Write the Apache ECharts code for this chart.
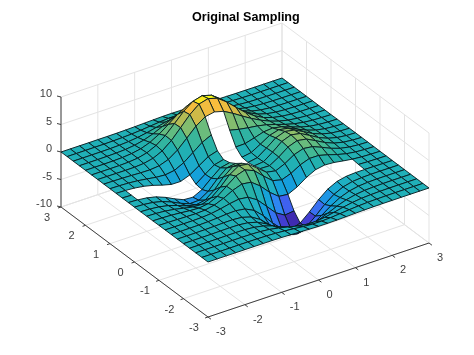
<!DOCTYPE html>
<html>
<head>
<meta charset="utf-8">
<script src="https://cdn.jsdelivr.net/npm/echarts@6/dist/echarts.min.js"></script>
<style>
html,body{margin:0;padding:0;background:#fff;}
#main{width:474px;height:355px;}
</style>
</head>
<body>
<div id="main"></div>
<script>
var gridX = [-3,-2.75,-2.5,-2.25,-2,-1.75,-1.5,-1.25,-1,-0.75,-0.5,-0.25,0,0.25,0.5,0.75,1,1.25,1.5,1.75,2,2.25,2.5,2.75,3];
var gridY = gridX.slice();
var xTicks = [-3,-2,-1,0,1,2,3];
var yTicks = [-3,-2,-1,0,1,2,3];
var zTicks = [-10,-5,0,5,10];
// one row per y (from y=-3 up), null = hole
var zValues = [
[0,0,0,0,0,0,0,0,-.03,-.08,-.14,-.2,-.25,-.25,-.22,-.17,-.11,-.06,-.03,-.01,-.01,0,0,0,0],
[0,0,0,0,.01,.01,0,-.03,-.1,-.22,-.39,-.56,-.68,-.7,-.61,-.46,-.3,-.17,-.08,-.04,-.01,0,0,0,0],
[0,0,0,.01,.01,.02,0,-.07,-.23,-.53,-.91,-1.31,-1.57,-1.6,-1.41,-1.06,-.69,-.38,-.18,-.08,-.03,-.01,0,0,0],
[0,0,.01,.01,.03,.04,.01,-.12,-.44,-.99,-1.74,-2.51,-3.02,-3.1,-2.72,-2.05,-1.32,-.73,-.35,-.14,-.05,-.01,0,0,0],
[0,0,.01,.02,.05,.07,.05,-.13,-.59,-1.45,-2.64,-3.88,-4.76,-4.93,-4.35,-3.27,-2.1,-1.15,-.53,-.2,-.06,-.01,0,0,0],
[0,0,.01,.03,.07,.13,.15,.02,-.47,-1.48,-3,-4.7,-5.98,-6.33,-5.64,-4.24,-2.69,-1.42,-.61,-.2,-.05,0,.01,0,0],
[0,0,.01,.03,.08,.18,.33,.39,.15,-.67,-2.18,-4.07,-5.68,-6.32,-5.76,-4.31,-2.63,-1.27,-.44,-.07,.04,.05,.03,.01,0],
[0,-.01,-.01,-.01,.03,.17,.45,.83,1.1,.89,-.14,-1.85,-3.61,-4.6,-4.4,null,null,null,null,null,null,.13,.06,.02,.01],
[-.01,-.02,-.06,-.1,-.13,-.04,.3,.98,1.85,2.46,2.23,.99,-.72,-2.02,-2.22,-1.43,-.27,.58,.88,.77,.5,.26,.11,.04,.01],
[-.02,-.05,-.12,-.25,-.42,-.51,-.28,.49,1.78,3.09,3.63,2.94,1.4,0,-.41,.2,1.18,1.79,1.78,1.34,.82,.41,.17,.06,.02],
[-.02,-.07,-.2,-.44,-.8,-1.15,-1.21,-.6,.79,2.49,3.55,3.3,2,.7,.39,1.14,2.2,2.76,2.55,1.87,1.12,.56,.24,.08,.02],
[-.03,-.1,-.27,-.6,-1.14,-1.77,-2.16,-1.84,-.57,1.23,2.56,2.62,null,.53,.48,1.5,2.76,3.37,3.09,2.24,1.34,.67,.28,.1,.03],
[-.03,-.11,-.3,-.69,-1.33,-2.14,-2.77,-2.71,-1.65,.07,1.48,1.75,null,.19,.37,1.57,2.94,3.58,3.27,2.37,1.41,.72,.3,.1,.03],
[-.03,-.1,-.29,-.67,-1.32,-2.15,-2.87,-2.98,-2.15,-.65,.68,1.06,null,-.03,.28,1.47,2.76,3.36,3.06,2.22,1.32,.67,.27,.09,.03],
[-.03,-.09,null,null,null,null,null,null,-2,-.76,.39,.8,null,.09,.38,1.34,2.38,2.84,2.56,1.84,1.09,.54,.23,.08,.02],
[-.02,-.06,-.18,-.42,-.81,-1.33,-1.76,-1.78,-1.16,-.05,1.04,1.55,null,1.12,1.17,1.65,2.17,2.32,1.99,1.4,.82,.4,.17,.06,.02],
[-.01,-.04,-.11,-.25,-.48,-.74,-.86,-.6,.23,1.51,2.79,3.59,null,3.34,2.94,2.66,2.43,2.09,1.58,1.03,.58,.28,.11,.04,.01],
[-.01,-.02,-.06,-.12,-.2,-.22,-.05,.55,1.7,3.29,4.92,6.07,6.39,5.94,5.02,3.97,2.97,2.09,1.35,.79,.41,.19,.07,.02,.01],
[0,-.01,-.02,-.03,-.01,.11,.48,1.27,2.61,4.37,6.19,7.54,7.99,7.48,6.25,4.72,3.25,2.05,1.18,.62,.29,.12,.05,.02,0],
[0,0,0,.01,.07,.24,.65,1.43,2.67,4.29,5.96,7.22,7.68,7.2,5.99,4.45,2.96,1.78,.96,.47,.21,.08,.03,.01,0],
[0,0,0,.02,.08,.23,.55,1.16,2.1,3.31,4.56,5.51,5.86,5.5,4.57,3.37,2.21,1.29,.68,.32,.13,.05,.02,.01,0],
[0,0,0,.02,.06,.15,.36,.74,1.32,2.07,2.84,3.43,3.65,3.43,2.84,2.09,1.36,.79,.41,.19,.08,.03,.01,0,0],
[0,0,0,.01,.03,.08,.19,.39,.69,1.07,1.47,1.77,1.89,1.77,1.47,1.08,.7,.4,.21,.09,.04,.01,0,0,0],
[0,0,0,.01,.01,.04,.09,.17,.3,.47,.64,.77,.82,.77,.64,.47,.3,.17,.09,.04,.01,.01,0,0,0],
[0,0,0,0,.01,.01,.03,.06,.11,.17,.23,.28,.3,.28,.23,.17,.11,.06,.03,.01,.01,0,0,0,0]
];

var chart = echarts.init(document.getElementById('main'));

// view: the floor corner x=-3,y=-3 sits at (208,317), z scale in px per unit
function project(x, y, z) {
    var a = (x + 3) / 6, b = (y + 3) / 6;
    return [208 + a * 221 - b * 147, 317 - a * 74 - b * 110 - (z + 10) * 5.5];
}

// parula colormap stops
var parula = ['#3e26a8','#4650ef','#2e87f3','#149fdc','#1fb0c4','#22b0ab','#4fbc8b','#93bd66','#d6ba44','#fdbd3c','#f9fb15'];
var zMin = -6.5, zMax = 8;
function faceColor(z) {
    var t = Math.max(0, Math.min(1, (z - zMin) / (zMax - zMin)));
    return echarts.color.lerp(t, parula);
}

// cells back to front so nearer ones paint over
var cells = [];
for (var j = gridY.length - 2; j >= 0; j--) {
    for (var i = gridX.length - 2; i >= 0; i--) {
        cells.push([i, j]);
    }
}

var lineColor = '#e3e3e3', axisColor = '#404040', textColor = '#404040';

function seg(api, p, q, color, w) {
    var a = api.coord(project(p[0], p[1], p[2]));
    var b = api.coord(project(q[0], q[1], q[2]));
    return {type: 'line', shape: {x1: a[0], y1: a[1], x2: b[0], y2: b[1]}, style: {stroke: color, lineWidth: w}, silent: true};
}

function label(api, p, dx, dy, str, align) {
    var a = api.coord(project(p[0], p[1], p[2]));
    return {type: 'text', x: a[0] + dx, y: a[1] + dy, silent: true,
        style: {text: str, fill: textColor, font: '11px "Liberation Sans", Arial, sans-serif', align: align, verticalAlign: 'middle'}};
}

function renderBox(params, api) {
    var kids = [];
    // floor and back walls
    xTicks.forEach(function (v) {
        kids.push(seg(api, [v, -3, -10], [v, 3, -10], lineColor, 1));
        kids.push(seg(api, [v, 3, -10], [v, 3, 10], lineColor, 1));
    });
    yTicks.forEach(function (v) {
        kids.push(seg(api, [-3, v, -10], [3, v, -10], lineColor, 1));
        kids.push(seg(api, [3, v, -10], [3, v, 10], lineColor, 1));
    });
    zTicks.forEach(function (v) {
        kids.push(seg(api, [-3, 3, v], [3, 3, v], lineColor, 1));
        kids.push(seg(api, [3, 3, v], [3, -3, v], lineColor, 1));
    });
    // axes
    kids.push(seg(api, [-3, 3, -10], [-3, 3, 10], axisColor, 1));
    kids.push(seg(api, [-3, -3, -10], [-3, 3, -10], axisColor, 1));
    kids.push(seg(api, [-3, -3, -10], [3, -3, -10], axisColor, 1));
    xTicks.forEach(function (v) {
        kids.push(seg(api, [v, -3, -10], [v, -3.12, -10], axisColor, 1));
        kids.push(label(api, [v, -3, -10], v < 0 ? 13 : 11, 15, String(v), 'center'));
    });
    yTicks.forEach(function (v) {
        kids.push(seg(api, [-3, v, -10], [-3.08, v, -10], axisColor, 1));
        kids.push(label(api, [-3, v, -10], -14, 11, String(v), 'center'));
    });
    zTicks.forEach(function (v) {
        var a = api.coord(project(-3, 3, v));
        kids.push({type: 'line', shape: {x1: a[0], y1: a[1], x2: a[0] - 4, y2: a[1] - 1}, style: {stroke: axisColor, lineWidth: 1}, silent: true});
        kids.push(label(api, [-3, 3, v], -9, -3, String(v), 'right'));
    });
    return {type: 'group', children: kids};
}

function renderCell(params, api) {
    var i = api.value(0), j = api.value(1);
    var z00 = zValues[j][i], z10 = zValues[j][i + 1], z11 = zValues[j + 1][i + 1], z01 = zValues[j + 1][i];
    if (z00 === null || z10 === null || z11 === null || z01 === null) {
        return;
    }
    var pts = [
        api.coord(project(gridX[i], gridY[j], z00)),
        api.coord(project(gridX[i + 1], gridY[j], z10)),
        api.coord(project(gridX[i + 1], gridY[j + 1], z11)),
        api.coord(project(gridX[i], gridY[j + 1], z01))
    ];
    return {
        type: 'polygon',
        shape: {points: pts},
        silent: true,
        style: {fill: faceColor(z00), stroke: 'rgba(5,25,30,0.9)', lineWidth: 1}
    };
}

var option = {
    animation: false,
    backgroundColor: '#fff',
    title: {
        text: 'Original Sampling',
        left: 187,
        top: 6,
        textStyle: {color: '#000', fontSize: 12.6, fontWeight: 'bold', fontFamily: '"Liberation Sans", Arial, sans-serif'}
    },
    grid: {left: 0, right: 0, top: 0, bottom: 0},
    xAxis: {type: 'value', min: 0, max: 474, show: false},
    yAxis: {type: 'value', min: 0, max: 355, inverse: true, show: false},
    series: [
        {type: 'custom', name: 'box', data: [[0, 0]], encode: {x: 0, y: 1}, renderItem: renderBox, silent: true},
        {type: 'custom', name: 'surface', data: cells, encode: {x: 0, y: 1}, renderItem: renderCell, silent: true}
    ]
};
chart.setOption(option);
</script>
</body>
</html>
